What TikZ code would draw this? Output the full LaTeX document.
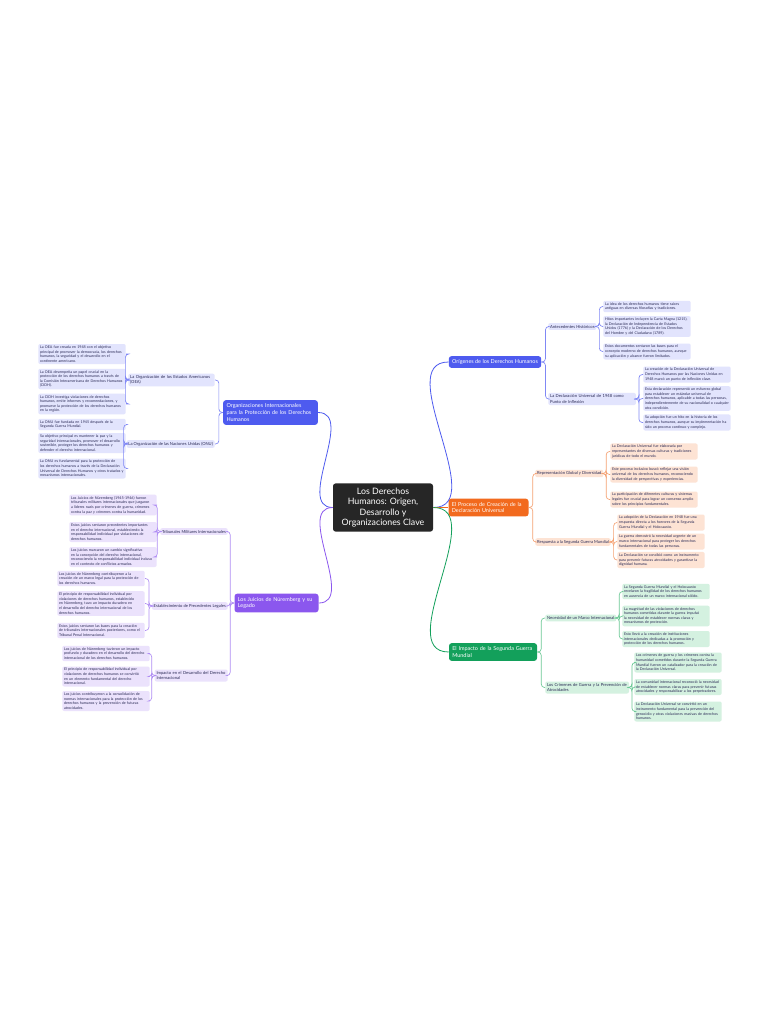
\documentclass[tikz,border=0pt]{standalone}
\usepackage{fontspec}
\setmainfont{Lato}
\hyphenpenalty=10000 \exhyphenpenalty=10000
\definecolor{bM}{HTML}{4E5BEF}\definecolor{bL}{HTML}{E2E4FD}\definecolor{bC}{HTML}{8088F5}
\definecolor{oM}{HTML}{F26A1E}\definecolor{oL}{HTML}{FDE3D4}\definecolor{oC}{HTML}{F5A273}
\definecolor{gM}{HTML}{13A05B}\definecolor{gL}{HTML}{D4F1E0}\definecolor{gC}{HTML}{6CC996}
\definecolor{pM}{HTML}{8B57EE}\definecolor{pL}{HTML}{EBE2FC}\definecolor{pC}{HTML}{B08EF4}
\definecolor{tx}{HTML}{2A2A55}
\newcommand\lff{\fontsize{2.75}{3.45}\selectfont}
\newcommand\sbf{\fontsize{3.1}{3.9}\selectfont}
\newcommand\mnf{\fontsize{4.1}{5.2}\selectfont}
\tikzset{
 leaf/.style={fill=#1, rounded corners=1.5pt, inner sep=1.3pt, text width=63pt, font=\lff, align=left, text=tx},
 sub/.style={fill=#1, rounded corners=1.5pt, inner sep=1.4pt, font=\sbf, align=left, text=tx},
 mainn/.style={fill=#1, rounded corners=2pt, inner sep=2.5pt, font=\mnf, align=left, text=white},
 cn/.style={draw=#1, line width=0.5pt, rounded corners=2.5pt},
}
\begin{document}
\begin{tikzpicture}[x=0.75pt,y=-0.75pt]
\path[use as bounding box, fill=white] (0,0) rectangle (768,1024);
% center
\node[fill=black!85, rounded corners=2pt, text=white, font=\fontsize{6.6}{7.8}\selectfont, align=center, minimum width=75pt, minimum height=36pt] (c) at (383,507.5) {Los Derechos\\Humanos: Origen,\\Desarrollo y\\Organizaciones Clave};
% main nodes
\node[mainn=bM, minimum width=69pt] (m1) at (495,362) {Orígenes de los Derechos Humanos};
\node[mainn=oM, text width=55pt] (m2) at (488.5,507.5) {El Proceso de Creación de la Declaración Universal};
\node[mainn=gM, text width=61pt] (m3) at (493,652) {El Impacto de la Segunda Guerra Mundial};
\node[mainn=bM, text width=66pt] (m4) at (270.5,412.5) {Organizaciones Internacionales para la Protección de los Derechos Humanos};
\node[mainn=pM, text width=58pt] (m5) at (276.5,603) {Los Juicios de Núremberg y su Legado};
\draw[bM, line width=0.6pt] (c.east) to[out=0,in=180] (m1.west);
\draw[oM, line width=0.6pt] (c.east) to[out=0,in=180] (m2.west);
\draw[gM, line width=0.6pt] (c.east) to[out=0,in=180] (m3.west);
\draw[bM, line width=0.6pt] (c.west) to[out=180,in=0] (m4.east);
\draw[pM, line width=0.6pt] (c.west) to[out=180,in=0] (m5.east);
% subs right
\node[sub=bL, anchor=west] (s1) at (548,326.5) {Antecedentes Históricos};
\node[sub=bL, anchor=west, text width=63pt] (s2) at (548,399) {La Declaración Universal de 1948 como Punto de Inflexión};
\node[sub=oL, anchor=west] (s3) at (535,473.5) {Representación Global y Diversidad};
\node[sub=oL, anchor=west] (s4) at (535,542) {Respuesta a la Segunda Guerra Mundial};
\node[sub=gL, anchor=west] (s5) at (545,618) {Necesidad de un Marco Internacional};
\node[sub=gL, anchor=west, text width=60pt] (s6) at (545,687.5) {Los Crímenes de Guerra y la Prevención de Atrocidades};
% subs left
\node[sub=bL, anchor=east, text width=62pt] (s7) at (215,380) {La Organización de los Estados Americanos (OEA)};
\node[sub=bL, anchor=east] (s8) at (215,444) {La Organización de las Naciones Unidas (ONU)};
\node[sub=pL, anchor=east] (s9) at (228,531.5) {Tribunales Militares Internacionales};
\node[sub=pL, anchor=east] (s10) at (228,606) {Establecimiento de Precedentes Legales};
\node[sub=pL, anchor=east, text width=52pt] (s11) at (228,675.5) {Impacto en el Desarrollo del Derecho Internacional};
\foreach \s in {s1,s2}{\draw[cn=bC] (m1.east) -- ([xshift=3pt]m1.east) |- (\s.west);}
\foreach \s in {s3,s4}{\draw[cn=oC] (m2.east) -- ([xshift=3pt]m2.east) |- (\s.west);}
\foreach \s in {s5,s6}{\draw[cn=gC] (m3.east) -- ([xshift=3pt]m3.east) |- (\s.west);}
\foreach \s in {s7,s8}{\draw[cn=bC] (m4.west) -- ([xshift=-3pt]m4.west) |- (\s.east);}
\foreach \s in {s9,s10,s11}{\draw[cn=pC] (m5.west) -- ([xshift=-3pt]m5.west) |- (\s.east);}
% leaves right
\node[leaf=bL, anchor=west] (a1) at (603,306.5) {La idea de los derechos humanos tiene raíces antiguas en diversas filosofías y tradiciones.};
\node[leaf=bL, anchor=west] (a2) at (603,326.5) {Hitos importantes incluyen la Carta Magna (1215), la Declaración de Independencia de Estados Unidos (1776) y la Declaración de los Derechos del Hombre y del Ciudadano (1789).};
\node[leaf=bL, anchor=west] (a3) at (603,351.5) {Estos documentos sentaron las bases para el concepto moderno de derechos humanos, aunque su aplicación y alcance fueron limitados.};
\node[leaf=bL, anchor=west] (b1) at (643,374.5) {La creación de la Declaración Universal de Derechos Humanos por las Naciones Unidas en 1948 marcó un punto de inflexión clave.};
\node[leaf=bL, anchor=west] (b2) at (643,398.5) {Esta declaración representó un esfuerzo global para establecer un estándar universal de derechos humanos, aplicable a todas las personas, independientemente de su nacionalidad o cualquier otra condición.};
\node[leaf=bL, anchor=west] (b3) at (643,422.5) {Su adopción fue un hito en la historia de los derechos humanos, aunque su implementación ha sido un proceso continuo y complejo.};
\node[leaf=oL, anchor=west] (r1) at (610,451.5) {La Declaración Universal fue elaborada por representantes de diversas culturas y tradiciones jurídicas de todo el mundo.};
\node[leaf=oL, anchor=west] (r2) at (610,474.5) {Este proceso inclusivo buscó reflejar una visión universal de los derechos humanos, reconociendo la diversidad de perspectivas y experiencias.};
\node[leaf=oL, anchor=west] (r3) at (610,499.5) {La participación de diferentes culturas y sistemas legales fue crucial para lograr un consenso amplio sobre los principios fundamentales.};
\node[leaf=oL, anchor=west] (p1) at (617,522.5) {La adopción de la Declaración en 1948 fue una respuesta directa a los horrores de la Segunda Guerra Mundial y el Holocausto.};
\node[leaf=oL, anchor=west] (p2) at (617,541.5) {La guerra demostró la necesidad urgente de un marco internacional para proteger los derechos fundamentales de todas las personas.};
\node[leaf=oL, anchor=west] (p3) at (617,560) {La Declaración se concibió como un instrumento para prevenir futuras atrocidades y garantizar la dignidad humana.};
\node[leaf=gL, anchor=west] (n1) at (622,591.5) {La Segunda Guerra Mundial y el Holocausto revelaron la fragilidad de los derechos humanos en ausencia de un marco internacional sólido.};
\node[leaf=gL, anchor=west] (n2) at (622,616) {La magnitud de las violaciones de derechos humanos cometidas durante la guerra impulsó la necesidad de establecer normas claras y mecanismos de protección.};
\node[leaf=gL, anchor=west] (n3) at (622,639) {Esto llevó a la creación de instituciones internacionales dedicadas a la promoción y protección de los derechos humanos.};
\node[leaf=gL, anchor=west] (k1) at (634,662.5) {Los crímenes de guerra y los crímenes contra la humanidad cometidos durante la Segunda Guerra Mundial fueron un catalizador para la creación de la Declaración Universal.};
\node[leaf=gL, anchor=west] (k2) at (634,687) {La comunidad internacional reconoció la necesidad de establecer normas claras para prevenir futuras atrocidades y responsabilizar a los perpetradores.};
\node[leaf=gL, anchor=west] (k3) at (634,711.5) {La Declaración Universal se convirtió en un instrumento fundamental para la prevención del genocidio y otras violaciones masivas de derechos humanos.};
% leaves left
\node[leaf=bL, anchor=east] (o1) at (126,354) {La OEA fue creada en 1948 con el objetivo principal de promover la democracia, los derechos humanos, la seguridad y el desarrollo en el continente americano.};
\node[leaf=bL, anchor=east] (o2) at (126,379) {La OEA desempeña un papel crucial en la protección de los derechos humanos a través de la Comisión Interamericana de Derechos Humanos (CIDH).};
\node[leaf=bL, anchor=east] (o3) at (126,404) {La CIDH investiga violaciones de derechos humanos, emite informes y recomendaciones, y promueve la protección de los derechos humanos en la región.};
\node[leaf=bL, anchor=east] (u1) at (126,424.5) {La ONU fue fundada en 1945 después de la Segunda Guerra Mundial.};
\node[leaf=bL, anchor=east] (u2) at (126,443) {Su objetivo principal es mantener la paz y la seguridad internacionales, promover el desarrollo sostenible, proteger los derechos humanos y defender el derecho internacional.};
\node[leaf=bL, anchor=east] (u3) at (126,468.5) {La ONU es fundamental para la protección de los derechos humanos a través de la Declaración Universal de Derechos Humanos y otros tratados y mecanismos internacionales.};
\node[leaf=pL, anchor=east] (t1) at (157,505) {Los Juicios de Núremberg (1945-1946) fueron tribunales militares internacionales que juzgaron a líderes nazis por crímenes de guerra, crímenes contra la paz y crímenes contra la humanidad.};
\node[leaf=pL, anchor=east] (t2) at (157,532) {Estos juicios sentaron precedentes importantes en el derecho internacional, estableciendo la responsabilidad individual por violaciones de derechos humanos.};
\node[leaf=pL, anchor=east] (t3) at (157,557) {Los juicios marcaron un cambio significativo en la concepción del derecho internacional, reconociendo la responsabilidad individual incluso en el contexto de conflictos armados.};
\node[leaf=pL, anchor=east] (e1) at (145,578.5) {Los juicios de Núremberg contribuyeron a la creación de un marco legal para la protección de los derechos humanos.};
\node[leaf=pL, anchor=east] (e2) at (145,603.5) {El principio de responsabilidad individual por violaciones de derechos humanos, establecido en Núremberg, tuvo un impacto duradero en el desarrollo del derecho internacional de los derechos humanos.};
\node[leaf=pL, anchor=east] (e3) at (145,630.5) {Estos juicios sentaron las bases para la creación de tribunales internacionales posteriores, como el Tribunal Penal Internacional.};
\node[leaf=pL, anchor=east] (i1) at (150,653.5) {Los juicios de Núremberg tuvieron un impacto profundo y duradero en el desarrollo del derecho internacional de los derechos humanos.};
\node[leaf=pL, anchor=east] (i2) at (150,676.5) {El principio de responsabilidad individual por violaciones de derechos humanos se convirtió en un elemento fundamental del derecho internacional.};
\node[leaf=pL, anchor=east] (i3) at (150,701) {Los juicios contribuyeron a la consolidación de normas internacionales para la protección de los derechos humanos y la prevención de futuras atrocidades.};
% leaf connectors
\foreach \l in {a1,a2,a3}{\draw[cn=bC] (s1.east) -- ([xshift=2pt]s1.east) |- (\l.west);}
\foreach \l in {b1,b2,b3}{\draw[cn=bC] (s2.east) -- ([xshift=2pt]s2.east) |- (\l.west);}
\foreach \l in {r1,r2,r3}{\draw[cn=oC] (s3.east) -- ([xshift=2pt]s3.east) |- (\l.west);}
\foreach \l in {p1,p2,p3}{\draw[cn=oC] (s4.east) -- ([xshift=2pt]s4.east) |- (\l.west);}
\foreach \l in {n1,n2,n3}{\draw[cn=gC] (s5.east) -- ([xshift=2pt]s5.east) |- (\l.west);}
\foreach \l in {k1,k2,k3}{\draw[cn=gC] (s6.east) -- ([xshift=2pt]s6.east) |- (\l.west);}
\foreach \l in {o1,o2,o3}{\draw[cn=bC] (s7.west) -- ([xshift=-2pt]s7.west) |- (\l.east);}
\foreach \l in {u1,u2,u3}{\draw[cn=bC] (s8.west) -- ([xshift=-2pt]s8.west) |- (\l.east);}
\foreach \l in {t1,t2,t3}{\draw[cn=pC] (s9.west) -- ([xshift=-2pt]s9.west) |- (\l.east);}
\foreach \l in {e1,e2,e3}{\draw[cn=pC] (s10.west) -- ([xshift=-2pt]s10.west) |- (\l.east);}
\foreach \l in {i1,i2,i3}{\draw[cn=pC] (s11.west) -- ([xshift=-2pt]s11.west) |- (\l.east);}
\end{tikzpicture}
\end{document}
